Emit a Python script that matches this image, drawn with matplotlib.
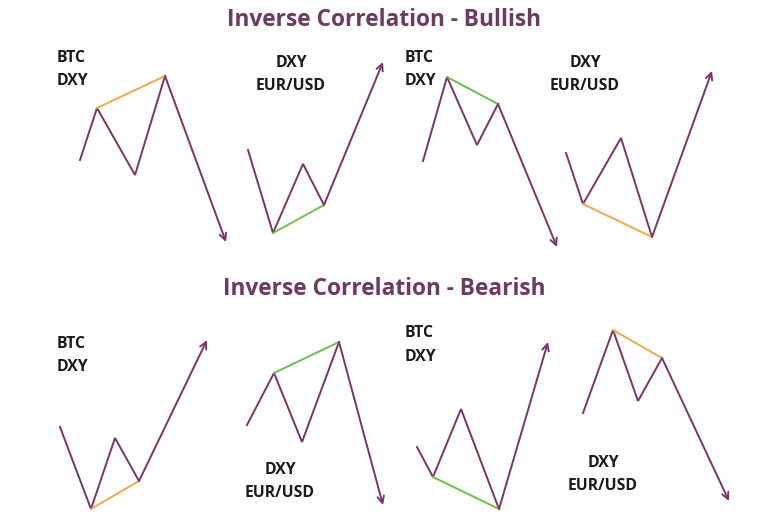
import matplotlib
matplotlib.use('Agg')
import matplotlib.pyplot as plt

plt.rcParams['font.family'] = ['Open Sans', 'DejaVu Sans']

LINE = '#7a3469'
ORANGE = '#f0a848'
GREEN = '#6cbf4a'
TITLE = '#6e3a5e'

# zigzag patterns, pixel space of the original picture (y grows downward)
p1_x = [80, 97, 135, 165, 226]
p1_y = [160, 108, 175, 76, 242]
p2_x = [248, 273, 303, 324, 383]
p2_y = [150, 233, 164, 205, 62]
p3_x = [423, 447, 477, 498, 557]
p3_y = [161, 77, 145, 104, 247]
p4_x = [566, 583, 621, 652, 712]
p4_y = [153, 204, 138, 237, 71]
p5_x = [60, 91, 115, 139, 207]
p5_y = [427, 509, 438, 481, 340]
p6_x = [247, 274, 302, 339, 383]
p6_y = [425, 373, 442, 342, 505]
p7_x = [417, 433, 461, 499, 548]
p7_y = [447, 477, 409, 509, 342]
p8_x = [583, 613, 638, 662, 729]
p8_y = [413, 330, 401, 358, 501]

patterns = [(p1_x, p1_y), (p2_x, p2_y), (p3_x, p3_y), (p4_x, p4_y),
            (p5_x, p5_y), (p6_x, p6_y), (p7_x, p7_y), (p8_x, p8_y)]
# which two pivots get joined, and with which colour
links = [(1, 3, ORANGE), (1, 3, GREEN), (1, 3, GREEN), (1, 3, ORANGE),
         (1, 3, ORANGE), (1, 3, GREEN), (1, 3, GREEN), (1, 3, ORANGE)]

titles = ['Inverse Correlation - Bullish', 'Inverse Correlation - Bearish']
title_y = [20, 289]

# label pairs: (text, x, y, ha)
labels = [
    ('BTC', 57, 58, 'left'), ('DXY', 57, 81, 'left'),
    ('DXY', 291, 63, 'center'), ('EUR/USD', 291, 86, 'center'),
    ('BTC', 405, 58, 'left'), ('DXY', 405, 81, 'left'),
    ('DXY', 585, 63, 'center'), ('EUR/USD', 585, 86, 'center'),
    ('BTC', 57, 344, 'left'), ('DXY', 57, 367, 'left'),
    ('DXY', 280, 470, 'center'), ('EUR/USD', 280, 493, 'center'),
    ('BTC', 405, 333, 'left'), ('DXY', 405, 357, 'left'),
    ('DXY', 603, 463, 'center'), ('EUR/USD', 603, 486, 'center'),
]

fig = plt.figure(figsize=(7.68, 5.12), dpi=100)
ax = fig.add_axes([0, 0, 1, 1])
ax.set_xlim(0, 768)
ax.set_ylim(512, 0)
ax.axis('off')

for (xs, ys), (a, b, c) in zip(patterns, links):
    ax.plot(xs[:-1], ys[:-1], color=LINE, lw=1.4, solid_joinstyle='miter')
    ax.annotate('', xy=(xs[-1], ys[-1]), xytext=(xs[-2], ys[-2]),
                arrowprops=dict(arrowstyle='->', color=LINE, lw=1.4,
                                shrinkA=0, shrinkB=0, mutation_scale=12))
    ax.plot([xs[a], xs[b]], [ys[a], ys[b]], color=c, lw=1.4)

for t, y in zip(titles, title_y):
    ax.text(384, y, t, ha='center', va='center', fontsize=16.3,
            fontweight='bold', color=TITLE)

for t, x, y, ha in labels:
    ax.text(x, y, t, ha=ha, va='center', fontsize=11.3, fontweight='bold',
            color='#1a1a1a')

fig.savefig('out.png', dpi=100)
